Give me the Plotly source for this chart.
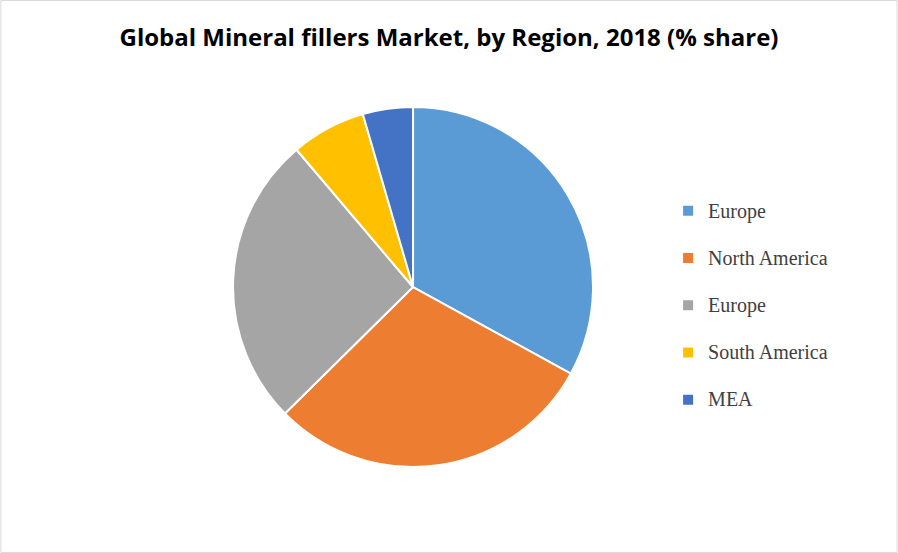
import plotly.graph_objects as go

labels = ["Europe", "North America", "Europe ", "South America", "MEA"]
values = [33.0, 29.6, 26.2, 6.7, 4.5]
colors = ["#5B9BD5", "#ED7D31", "#A5A5A5", "#FFC000", "#4472C4"]

fig = go.Figure(go.Pie(
    labels=["<span style='font-size:20px'>" + l + "</span><br>&nbsp;" for l in labels],
    values=values, sort=False, direction="clockwise", rotation=0,
    marker=dict(colors=colors, line=dict(color="white", width=2)),
    textinfo="none", hovertemplate="%{value}%<extra></extra>",
    domain=dict(x=[0.2595, 0.6604], y=[0.1555, 0.8065]),
))
fig.update_layout(
    width=898, height=553, margin=dict(l=0, r=0, t=0, b=0),
    paper_bgcolor="white",
    title=dict(text="<b>Global Mineral fillers Market, by Region, 2018 (% share)</b>",
               x=0.5, xanchor="center", y=0.932, yanchor="middle",
               font=dict(family="Open Sans", size=24, color="black")),
    legend=dict(x=0.744, y=0.428, xanchor="left", yanchor="middle", valign="top",
                font=dict(family="Liberation Serif", size=17, color="#404040"),
                itemwidth=30),
    shapes=[dict(type="rect", xref="paper", yref="paper", x0=0.001, y0=0.001, x1=0.999, y1=0.999,
                 line=dict(color="#D9D9D9", width=1))],
)
fig.write_html("out.html", config={"displayModeBar": False},
               post_script="document.body.style.margin='0';document.body.style.overflow='hidden';")
